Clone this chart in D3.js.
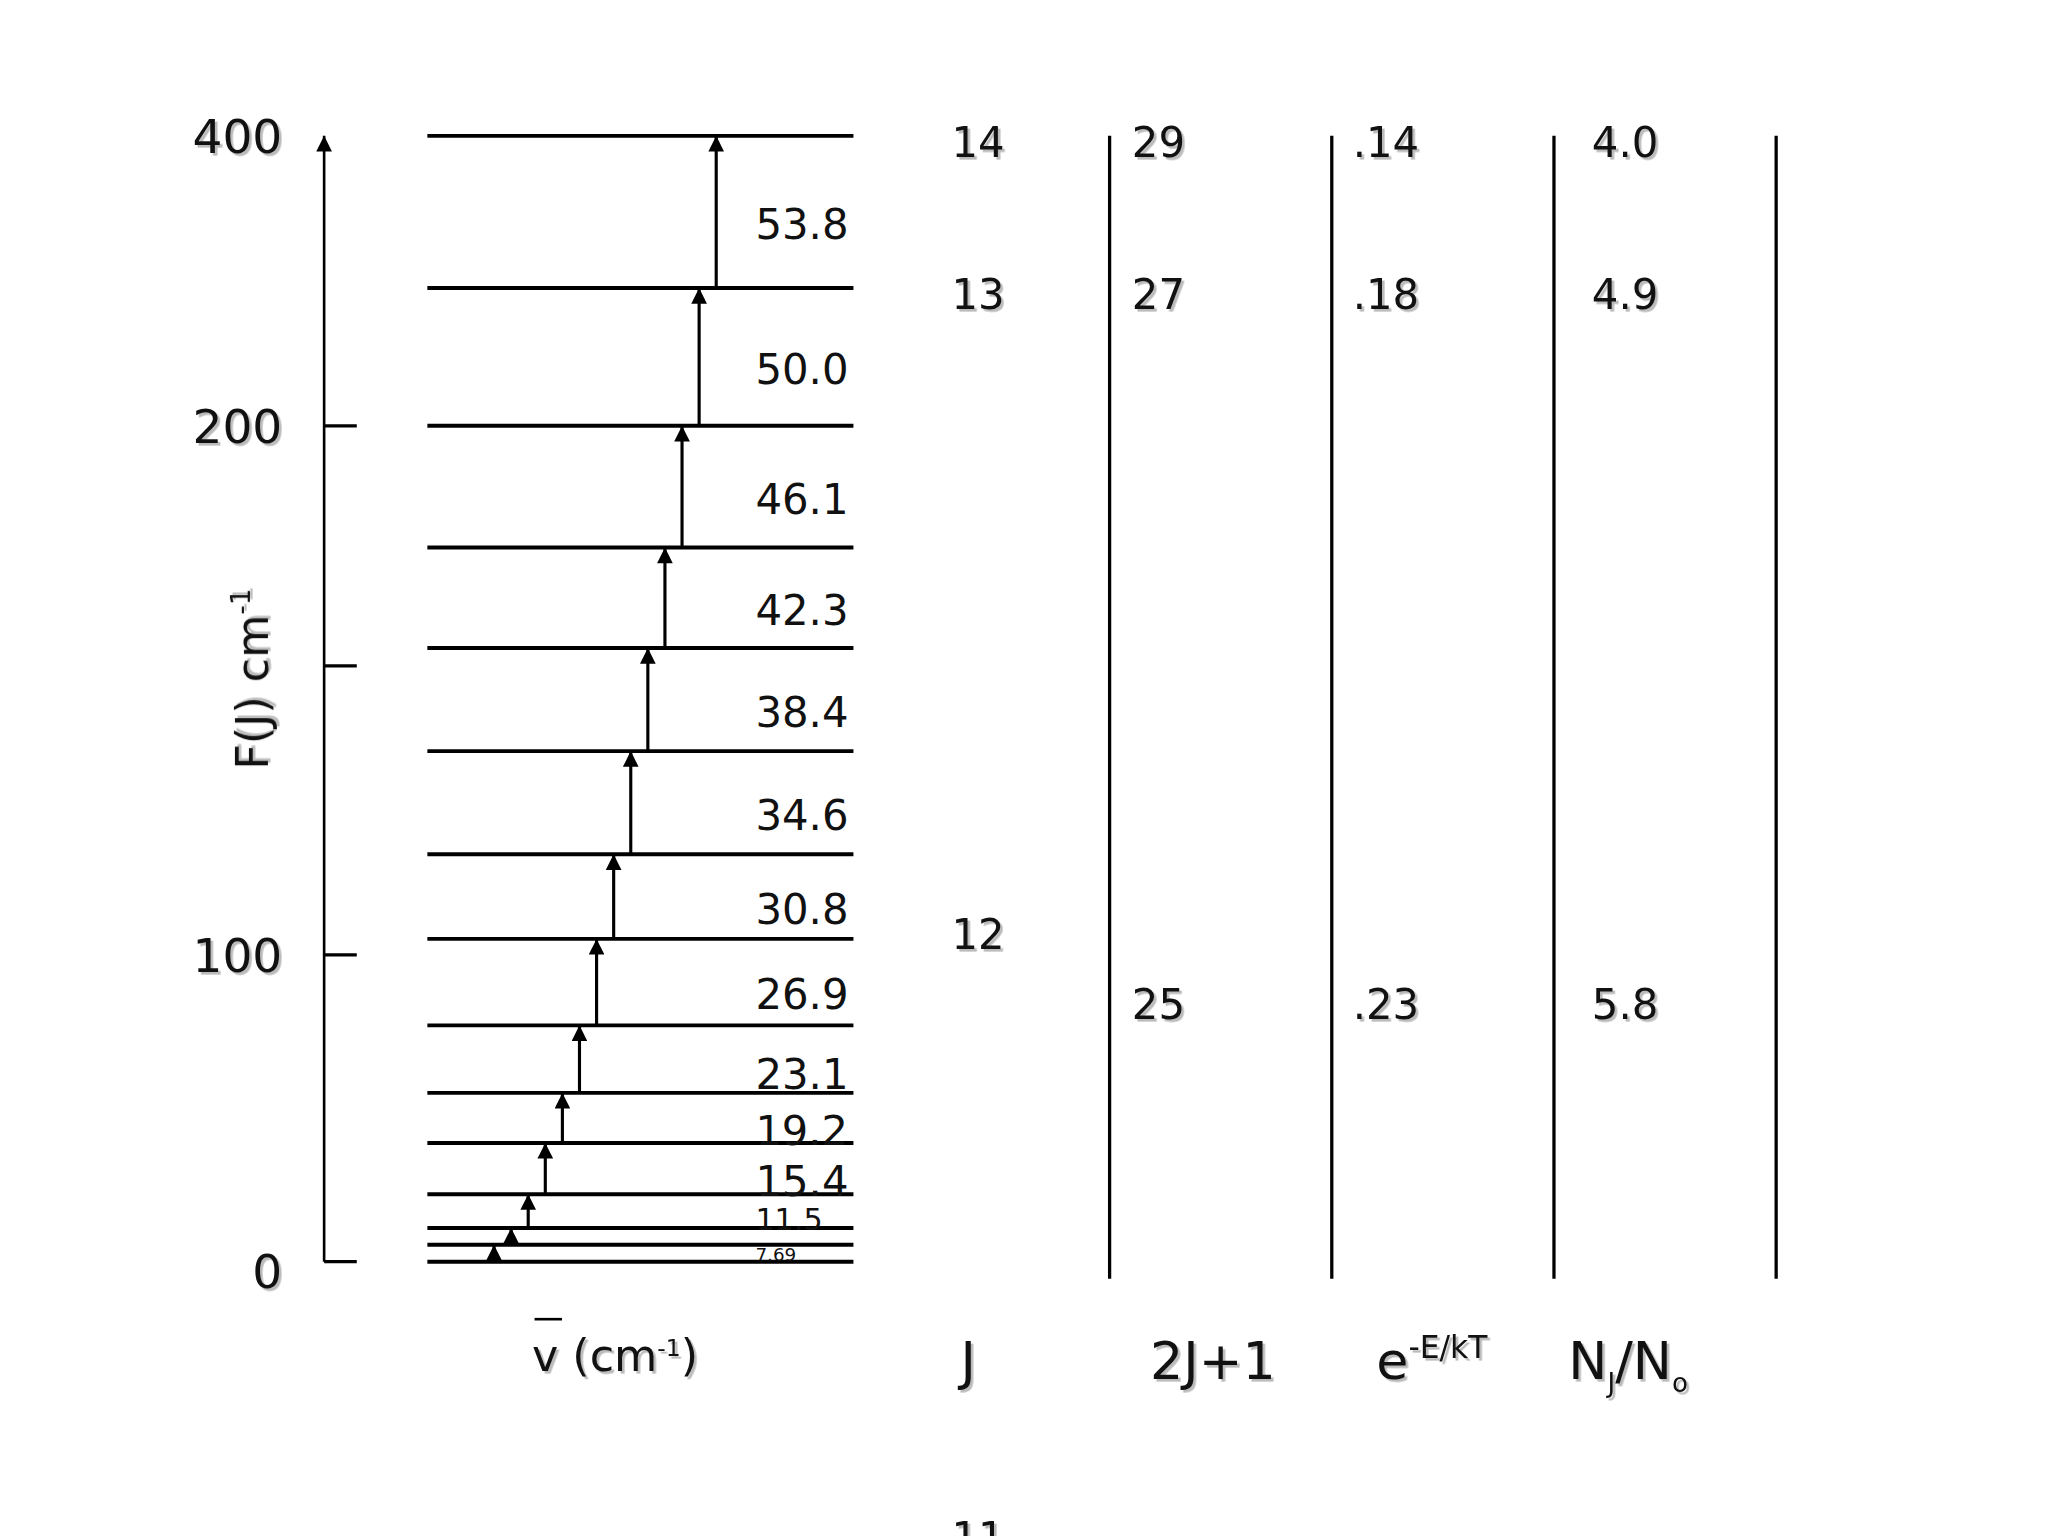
<!DOCTYPE html>
<html>
<head>
<meta charset="utf-8">
<script src="https://cdn.jsdelivr.net/npm/d3@7"></script>
<style>
  body { margin: 0; background: #fff; }
  text { font-family: "DejaVu Sans", sans-serif; fill: #111; }
  .sh { filter: drop-shadow(2px 2px 0 #bbb); }
</style>
</head>
<body>
<svg id="chart"></svg>
<script>
// energy levels read against the (broken) F(J) axis
const levelEnergies = [0, 5.5, 11, 22, 38.7, 55, 77, 103, 119, 138.5, 158, 177, 200, 295, 400];
// transition wavenumbers, labelled in the gaps from J=1 upward
const wavenumbers = ["7.69", "11.5", "15.4", "19.2", "23.1", "26.9", "30.8", "34.6", "38.4", "42.3", "46.1", "50.0", "53.8"];
const axisTicks = [0, 100, 154.6, 200, 400];
const axisTickLabels = ["0", "100", "", "200", "400"];
// table columns
const colJ = [{ v: "14", e: 400 }, { v: "13", e: 295 }, { v: "12", e: 105 }];
const colDeg = ["29", "27", "25"];
const colExp = [".14", ".18", ".23"];
const colRatio = ["4.0", "4.9", "5.8"];
const rowEnergies = [400, 295, 86];

const W = 1567, H = 1176;
const svg = d3.select("#chart")
  .attr("width", 2048).attr("height", 1536)
  .attr("viewBox", `0 0 ${W} ${H}`)
  .attr("preserveAspectRatio", "none");

// piecewise axis as drawn in the figure
const y = d3.scaleLinear().domain([0, 100, 200, 400]).range([966, 731, 326, 104]);
const xArrow = d3.scaleLinear().domain([0, 13]).range([378, 548]);

svg.append("defs").append("marker")
  .attr("id", "ah").attr("viewBox", "0 0 10 10").attr("refX", 10).attr("refY", 5)
  .attr("markerWidth", 15).attr("markerHeight", 12).attr("markerUnits", "userSpaceOnUse")
  .attr("orient", "auto")
  .append("path").attr("d", "M0,0 L10,5 L0,10 Z").attr("fill", "#000");

// axis
svg.append("line").attr("x1", 248).attr("x2", 248).attr("y1", y(0)).attr("y2", y(400))
  .attr("stroke", "#000").attr("stroke-width", 2).attr("marker-end", "url(#ah)");
svg.selectAll(".tick").data(axisTicks.slice(0, 4)).join("line")
  .attr("x1", 248).attr("x2", 273).attr("y1", d => y(d)).attr("y2", d => y(d))
  .attr("stroke", "#000").attr("stroke-width", 2.5);
svg.selectAll(".tl").data(axisTicks).join("text").attr("class", "sh")
  .attr("x", 216).attr("y", (d, i) => y(d) + (i === 0 ? 20 : 13))
  .attr("text-anchor", "end").attr("font-size", 36)
  .text((d, i) => axisTickLabels[i]);
svg.append("text").attr("class", "sh")
  .attr("transform", "translate(205,520) rotate(-90)")
  .attr("text-anchor", "middle").attr("font-size", 34)
  .html('F(J) cm<tspan dy="-14" font-size="20">-1</tspan>');

// levels
svg.selectAll(".lvl").data(levelEnergies).join("line")
  .attr("x1", 327).attr("x2", 653).attr("y1", d => y(d)).attr("y2", d => y(d))
  .attr("stroke", "#000").attr("stroke-width", 3);

// transitions
svg.selectAll(".arr").data(d3.range(levelEnergies.length - 1)).join("line")
  .attr("x1", d => xArrow(d)).attr("x2", d => xArrow(d))
  .attr("y1", d => y(levelEnergies[d])).attr("y2", d => y(levelEnergies[d + 1]))
  .attr("stroke", "#000").attr("stroke-width", 2.4).attr("marker-end", "url(#ah)");

svg.selectAll(".wn").data(wavenumbers).join("text")
  .each(function (d, i) {
    const lo = y(levelEnergies[i + 1]), hi = y(levelEnergies[i + 2]);
    const gap = lo - hi;
    const fs = Math.min(32, Math.max(14, gap * 0.7 + 5));
    d3.select(this).attr("x", 578).attr("font-size", fs)
      .attr("y", i === 0 ? lo + 12 : (lo + hi) / 2 + fs * 0.4 + (gap < 60 ? gap * 0.2 : 8));
  })
  .text(d => d);

// table columns
[849, 1019, 1189, 1359].forEach(x => {
  svg.append("line").attr("x1", x).attr("x2", x).attr("y1", 104).attr("y2", 979)
    .attr("stroke", "#000").attr("stroke-width", 2.5);
});
const cell = (x, vals, es) => svg.append("g").selectAll("text").data(vals).join("text")
  .attr("class", "sh").attr("x", x).attr("y", (d, i) => y(es[i]) + 16)
  .attr("font-size", 32).text(d => d);
cell(728, colJ.map(d => d.v), colJ.map(d => d.e));
cell(866, colDeg, rowEnergies);
cell(1035, colExp, rowEnergies);
cell(1218, colRatio, rowEnergies);
svg.append("text").attr("class", "sh").attr("x", 728).attr("y", 1188).attr("font-size", 32).text("11");

// headers
const hy = 1052;
svg.append("text").attr("class", "sh").attr("x", 407).attr("y", hy - 2).attr("font-size", 34)
  .html('v (cm<tspan dy="-12" font-size="18">-1</tspan><tspan dy="12">)</tspan>');
svg.append("line").attr("x1", 409).attr("x2", 430).attr("y1", 1010).attr("y2", 1010).attr("stroke", "#000").attr("stroke-width", 2);
svg.append("text").attr("class", "sh").attr("x", 735).attr("y", hy + 4).attr("font-size", 40).text("J");
svg.append("text").attr("class", "sh").attr("x", 880).attr("y", hy + 4).attr("font-size", 40).text("2J+1");
svg.append("text").attr("class", "sh").attr("x", 1053).attr("y", hy + 4).attr("font-size", 40)
  .html('e<tspan dy="-16" font-size="24">-E/kT</tspan>');
svg.append("text").attr("class", "sh").attr("x", 1200).attr("y", hy + 4).attr("font-size", 40)
  .html('N<tspan dy="10" font-size="20">J</tspan><tspan dy="-10">/N</tspan><tspan dy="10" font-size="20">o</tspan>');
</script>
</body>
</html>
